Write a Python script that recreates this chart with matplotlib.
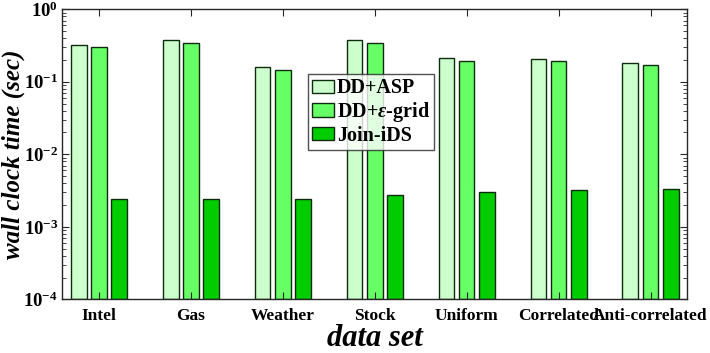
import numpy as np
import matplotlib
matplotlib.use("Agg")
import matplotlib.pyplot as plt
from matplotlib.ticker import LogLocator, NullFormatter

plt.rcParams['font.family'] = ['Liberation Serif', 'DejaVu Serif']
plt.rcParams['font.weight'] = 'bold'
plt.rcParams['mathtext.fontset'] = 'custom'
plt.rcParams['mathtext.rm'] = 'Liberation Serif:bold'
plt.rcParams['mathtext.it'] = 'Liberation Serif:italic'
plt.rcParams['mathtext.bf'] = 'Liberation Serif:bold'

# --- données ---
datasets = ["Intel", "Gas", "Weather", "Stock", "Uniform", "Correlated", "Anti-correlated"]
dd_asp = [0.322, 0.373, 0.158, 0.373, 0.211, 0.204, 0.180]
dd_grid = [0.299, 0.343, 0.144, 0.343, 0.192, 0.192, 0.171]
join_ids = [0.00232, 0.00232, 0.00232, 0.00266, 0.00290, 0.00309, 0.00319]
labels = ["DD+ASP", r"DD+$\epsilon$-grid", "Join-iDS"]
colors = ["#ccffcc", "#66ff66", "#00cc00"]

fig = plt.figure(figsize=(7.1, 3.53), dpi=100)
ax = fig.add_axes([0.0877, 0.152, 0.8803, 0.8217])

x = np.arange(1, len(datasets) + 1)
w = 0.17
off = 0.22
for i, (vals, lab, c) in enumerate(zip([dd_asp, dd_grid, join_ids], labels, colors)):
    ax.bar(x + (i - 1) * off, vals, width=w, bottom=1e-4, color=c,
           edgecolor="#0d2b0d", linewidth=1.0, label=lab)

ax.set_yscale('log')
ax.set_ylim(1e-4, 1)
ax.set_xlim(0.6, 7.4)
ax.set_xticks(x)
ax.set_xticklabels(datasets, fontsize=12.5, fontweight='bold')
ax.yaxis.set_major_locator(LogLocator(base=10, numticks=10))
ax.yaxis.set_minor_locator(LogLocator(base=10, subs=np.arange(2, 10), numticks=10))
ax.yaxis.set_minor_formatter(NullFormatter())
ax.tick_params(axis='both', which='both', direction='in', top=True, right=True,
               color='#262626')
ax.tick_params(axis='both', which='major', length=5)
ax.tick_params(axis='y', which='major', labelsize=13.5, pad=3)
ax.tick_params(axis='y', which='minor', length=3)
ax.tick_params(axis='x', which='major', pad=6)
for sp in ax.spines.values():
    sp.set_color('#262626')
    sp.set_linewidth(1.0)

ax.set_ylabel("wall clock time (sec)", fontsize=18, fontweight='bold',
              fontstyle='italic')
ax.yaxis.set_label_coords(-0.059, 0.5)
ax.set_xlabel("data set", fontsize=22, fontweight='bold', fontstyle='italic',
              labelpad=0)

leg = ax.legend(loc='upper left', bbox_to_anchor=(0.393, 0.777), fontsize=14.5,
                frameon=True, fancybox=False, edgecolor='#262626',
                handlelength=1.1, handleheight=0.65, handletextpad=0.12,
                borderpad=0.22, labelspacing=0.08, borderaxespad=0)
leg.get_frame().set_linewidth(1.0)

fig.savefig("out.png", dpi=100)
